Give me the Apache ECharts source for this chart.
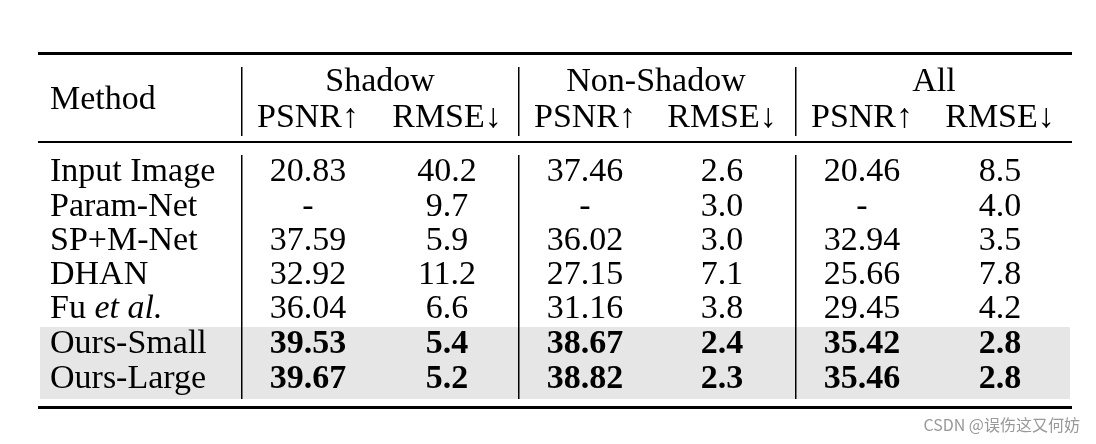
<!DOCTYPE html>
<html><head><meta charset="utf-8">
<script src="https://cdn.jsdelivr.net/npm/echarts@6/dist/echarts.min.js"></script>
<style>html,body{margin:0;padding:0;background:#fff}#c{width:1096px;height:444px}</style>
</head><body><div id="c"></div>
<script>
const groups = ["Shadow", "Non-Shadow", "All"];
const subHeaders = ["PSNR↑", "RMSE↓"];
const methods = ["Input Image", "Param-Net", "SP+M-Net", "DHAN", "Fu et al.", "Ours-Small", "Ours-Large"];
const shadowPSNR = ["20.83", "-", "37.59", "32.92", "36.04", "39.53", "39.67"];
const shadowRMSE = ["40.2", "9.7", "5.9", "11.2", "6.6", "5.4", "5.2"];
const nonShadowPSNR = ["37.46", "-", "36.02", "27.15", "31.16", "38.67", "38.82"];
const nonShadowRMSE = ["2.6", "3.0", "3.0", "7.1", "3.8", "2.4", "2.3"];
const allPSNR = ["20.46", "-", "32.94", "25.66", "29.45", "35.42", "35.46"];
const allRMSE = ["8.5", "4.0", "3.5", "7.8", "4.2", "2.8", "2.8"];
const boldRows = [5, 6];

const cols = [shadowPSNR, shadowRMSE, nonShadowPSNR, nonShadowRMSE, allPSNR, allRMSE];
const colX = [308, 447, 585, 722, 862, 1000];
const groupX = [380, 656, 934];
const rowY = [172, 207, 241, 275, 309, 344, 379];
const vx = [241, 518, 795];
const F = '"Liberation Serif", "DejaVu Serif", serif';
const g = [];
const txt = (x, y, s, align, bold, extra) => g.push({type:'text', x, y, style:Object.assign({text:s, font:(bold?'bold ':'')+'34px '+F, fill:'#000', align, verticalAlign:'middle'}, extra||{})});
const rect = (x, y, w, h, fill) => g.push({type:'rect', shape:{x, y, width:w, height:h}, style:{fill}});
rect(40, 327, 1030, 72, '#e6e6e6');
rect(38, 52, 1034, 3, '#000');
rect(38, 141, 1034, 2, '#000');
rect(38, 406, 1034, 3, '#000');
vx.forEach(x => { rect(x, 67, 1.5, 69, '#000'); rect(x, 155, 1.5, 244, '#000'); });
txt(50, 100, 'Method', 'left');
groups.forEach((s, i) => txt(groupX[i], 82, s, 'center'));
colX.forEach((x, i) => txt(x, 118, subHeaders[i % 2], 'center'));
methods.forEach((m, r) => {
  if (m === 'Fu et al.') {
    g.push({type:'text', x:50, y:rowY[r], style:{text:'{a|Fu }{b|et al.}', verticalAlign:'middle', align:'left', rich:{a:{font:'34px '+F, fill:'#000'}, b:{font:'italic 34px '+F, fill:'#000'}}}});
  } else txt(50, rowY[r], m, 'left');
  cols.forEach((c, i) => txt(colX[i], rowY[r], c[r], 'center', boldRows.includes(r)));
});
g.push({type:'text', x:1080, y:425, style:{text:'CSDN @误伤这又何妨', font:'16px "Noto Sans CJK SC", sans-serif', fill:'#999', align:'right', verticalAlign:'middle'}});
const chart = echarts.init(document.getElementById('c'));
chart.setOption({animation:false, graphic:g});
</script></body></html>
